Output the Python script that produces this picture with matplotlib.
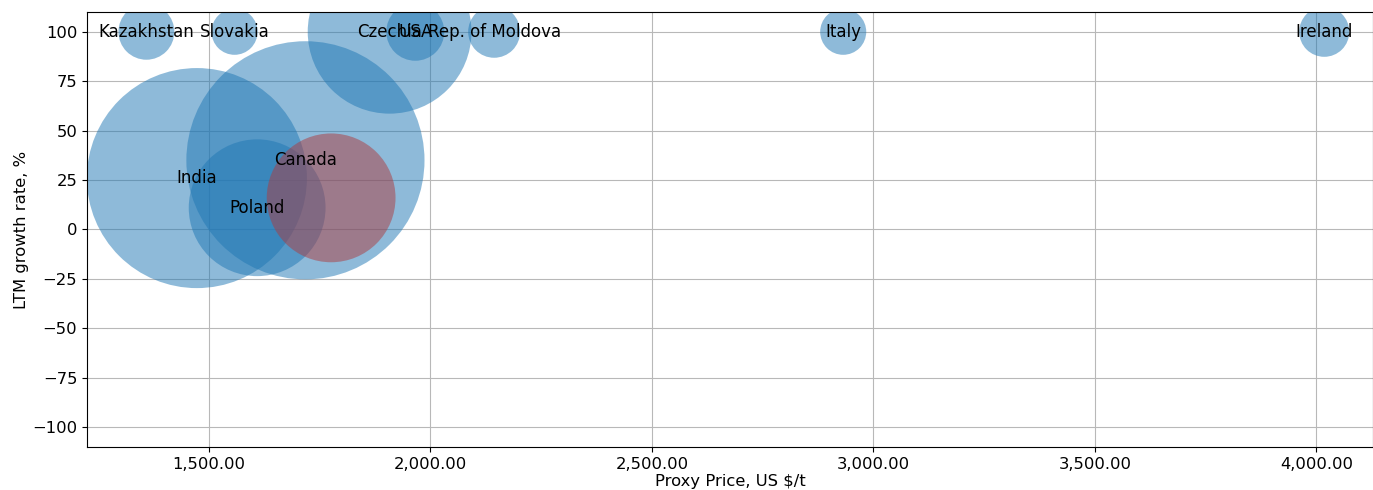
import matplotlib
matplotlib.use("Agg")
import matplotlib.pyplot as plt
from matplotlib.ticker import FuncFormatter, MultipleLocator

# bubble data
countries = ["Kazakhstan", "Slovakia", "Czechia", "USA", "Rep. of Moldova",
             "Italy", "Ireland", "India", "Canada", "Poland"]
proxy_price = [1359, 1558, 1908, 1966, 2144, 2932, 4018, 1473, 1718, 1609]
growth_rate = [100, 100, 100, 100, 100, 100, 100, 26, 35, 11]
trade_volume = [1620, 1100, 13900, 1740, 1400, 1100, 1300, 25100, 29400, 9700]

# highlighted (unlabelled) market
focus_price = [1776]
focus_growth = [16]
focus_volume = [8600]

fig = plt.figure(figsize=(13.73, 4.9), dpi=100)
ax = fig.add_axes([0.0634, 0.0878, 0.9366, 0.8877])

ax.scatter(proxy_price, growth_rate, s=trade_volume, color="tab:blue", alpha=0.5,
           edgecolors="none", zorder=2)
ax.scatter(focus_price, focus_growth, s=focus_volume, color="#ad3b3f", alpha=0.5,
           edgecolors="none", zorder=3)

for name, x, y in zip(countries, proxy_price, growth_rate):
    ax.text(x, y, name, ha="center", va="center", fontsize=12, zorder=4)

ax.set_xlim(1225, 4128)
ax.set_ylim(-110, 110)
ax.xaxis.set_major_locator(MultipleLocator(500))
ax.yaxis.set_major_locator(MultipleLocator(25))
ax.xaxis.set_major_formatter(FuncFormatter(lambda v, p: f"{v:,.2f}"))
ax.tick_params(labelsize=11.8)
ax.grid(True, color="#b8b8b8", linewidth=0.8, zorder=0)
ax.set_axisbelow(True)

ax.set_xlabel("Proxy Price, US $/t", fontsize=11.8, labelpad=2)
ax.set_ylabel("LTM growth rate, %", fontsize=11.8, labelpad=2)

fig.savefig("out.png", dpi=100)
